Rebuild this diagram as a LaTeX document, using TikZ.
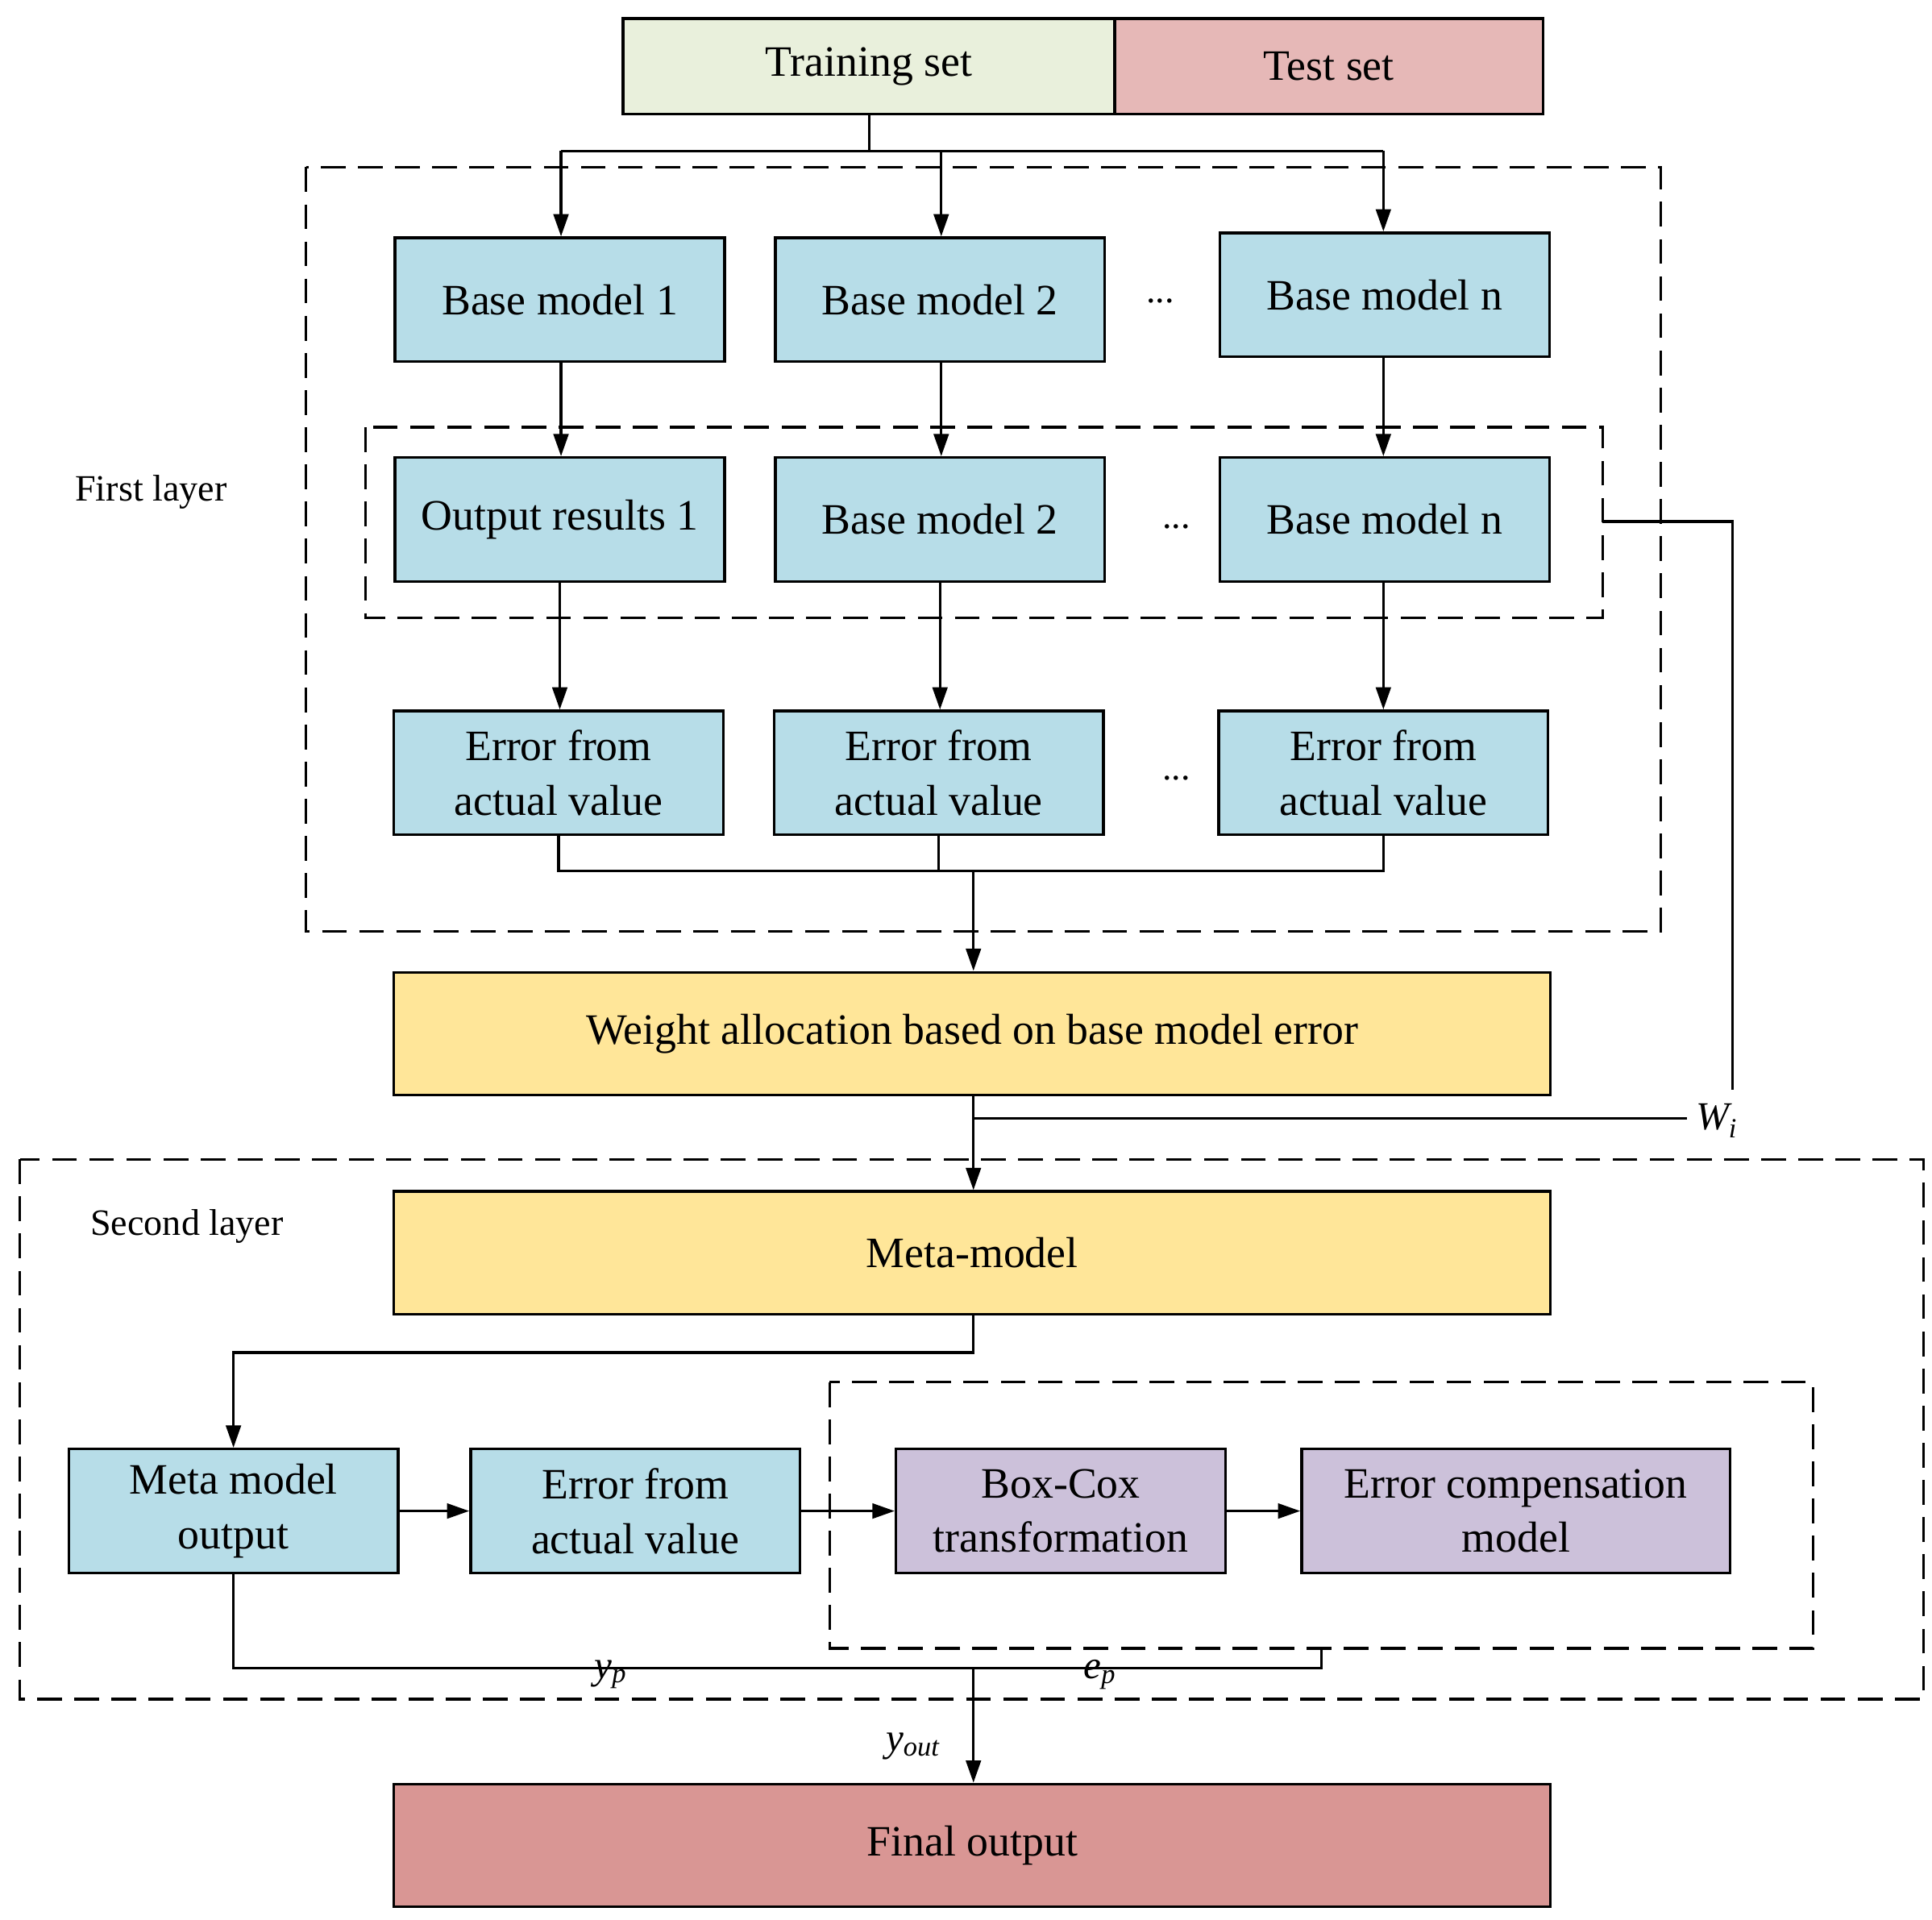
\documentclass[tikz,border=0pt]{standalone}
\usepackage{fontspec}
\setmainfont{Liberation Serif}
\usetikzlibrary{arrows.meta}
\definecolor{cgreen}{HTML}{E9F0DC}
\definecolor{cpink}{HTML}{E6B8B7}
\definecolor{cblue}{HTML}{B7DDE8}
\definecolor{cyellow}{HTML}{FFE699}
\definecolor{cpurple}{HTML}{CCC1DA}
\definecolor{cred}{HTML}{D99694}
\begin{document}
\begin{tikzpicture}[x=1pt,y=-1pt,line width=2.2pt,
  box/.style={draw,inner sep=0pt,align=center,font=\fontsize{35}{44}\selectfont},
  bx/.style={box,fill=cblue,minimum width=266pt,minimum height=100pt},
  wide/.style={box,minimum width=934pt,minimum height=99pt},
  dsh/.style={draw,dash pattern=on 20pt off 10pt},
  lbl/.style={font=\fontsize{30}{36}\selectfont},
  arr/.style={-{Triangle[length=18pt,width=12pt]}}]
\useasboundingbox (0,0) rectangle (1560,1550);
% dashed regions
\draw[dsh] (247,135) rectangle (1341,752);
\draw[dsh] (295,345) rectangle (1294,499);
\draw[dsh] (16,936) rectangle (1553,1372);
\draw[dsh] (670,1116) rectangle (1464,1331);
\node[lbl] (l1) at (122,397) {First layer};
\node[lbl] (l2) at (151,990) {Second layer};
% top
\node[box,fill=cgreen,minimum width=397pt,minimum height=77pt] (tr) at (701.5,53.5) {Training set};
\node[box,fill=cpink,minimum width=346pt,minimum height=77pt] (te) at (1073,53.5) {Test set};
% row 1
\node[bx] (b1) at (452,242) {Base model 1};
\node[bx] (b2) at (759,242) {Base model 2};
\node[bx] (b3) at (1118,238) {Base model n};
\node[lbl] (d1) at (937,243) {...};
% row 2
\node[bx] (o1) at (452,419.5) {Output results 1};
\node[bx] (o2) at (759,419.5) {Base model 2};
\node[bx] (o3) at (1118,419.5) {Base model n};
\node[lbl] (d2) at (950,425) {...};
% row 3
\node[bx] (e1) at (451,624) {Error from\\actual value};
\node[bx] (e2) at (758,624) {Error from\\actual value};
\node[bx] (e3) at (1117,624) {Error from\\actual value};
\node[lbl] (d3) at (950,628) {...};
\node[wide,fill=cyellow] (w) at (785,834.5) {Weight allocation based on base model error};
\node[wide,fill=cyellow] (m) at (785,1011.5) {Meta-model};
\node[bx] (mo) at (188.5,1220) {Meta model\\output};
\node[bx] (me) at (513,1220) {Error from\\actual value};
\node[bx,fill=cpurple] (bc) at (856.5,1220) {Box-Cox\\transformation};
\node[bx,fill=cpurple,minimum width=346pt] (ec) at (1224,1220) {Error compensation\\model};
\node[wide,fill=cred] (f) at (785,1490) {Final output};
% connectors
\coordinate (t0) at (702,122);
\draw (tr.south -| t0) -- (t0);
\draw (453,122) -- (1117,122);
\draw[arr] (453,122) -- (b1.north -| 453,0);
\draw[arr] (760,122) -- (b2.north -| 760,0);
\draw[arr] (1117,122) -- (b3.north -| 1117,0);
\draw[arr] (b1.south -| 453,0) -- (o1.north -| 453,0);
\draw[arr] (b2.south -| 760,0) -- (o2.north -| 760,0);
\draw[arr] (b3.south -| 1117,0) -- (o3.north -| 1117,0);
\draw[arr] (o1.south -| 452,0) -- (e1.north -| 452,0);
\draw[arr] (o2.south -| 759,0) -- (e2.north -| 759,0);
\draw[arr] (o3.south -| 1117,0) -- (e3.north -| 1117,0);
\draw (e1.south) |- (e3.south |- 0,703) -- (e3.south);
\draw (e2.south) -- (e2.south |- 0,703);
\draw[arr] (786,703) -- (w.north -| 786,0);
\draw[arr] (w.south -| 786,0) -- (m.north -| 786,0);
\draw (786,903) -- (1362,903);
\node[lbl,font=\fontsize{32}{36}\selectfont\itshape] (wi) at (1386,905) {W\textsubscript{\itshape i}};
\draw (1294,421) -- (1399,421) -- (1399,880);
\draw[arr] (m.south -| 786,0) -- (786,1092) -| (mo.north);
\draw[arr] (mo.east) -- (me.west);
\draw[arr] (me.east) -- (bc.west);
\draw[arr] (bc.east) -- (ec.west);
\draw (mo.south) |- (1067,1347) -- (1067,1331);
\draw[arr] (786,1347) -- (f.north -| 786,0);
\node[lbl,font=\fontsize{32}{36}\selectfont\itshape] (yp) at (493,1352) {y\textsubscript{\itshape p}};
\node[lbl,font=\fontsize{32}{36}\selectfont\itshape] (ep) at (888,1352) {e\textsubscript{\itshape p}};
\node[lbl,font=\fontsize{32}{36}\selectfont\itshape] (yo) at (737,1410) {y\textsubscript{\itshape out}};
\end{tikzpicture}
\end{document}
